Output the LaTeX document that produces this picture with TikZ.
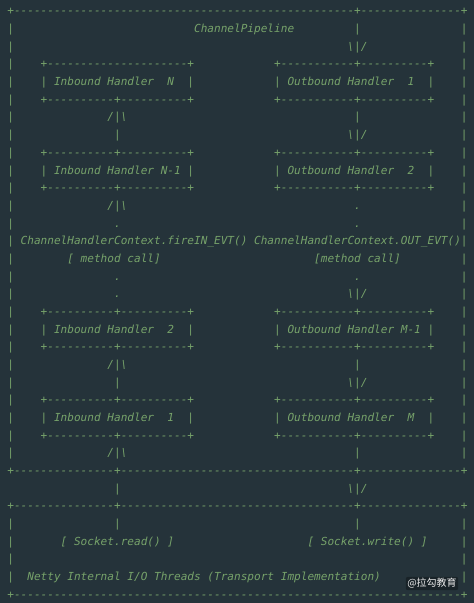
\documentclass[tikz,border=0pt]{standalone}
\usepackage{fontspec}
\setmonofont{DejaVu Sans Mono}
\newfontfamily\cjkfont{Noto Sans CJK SC}
\usepackage{xcolor}
\usepackage{tikz}

\definecolor{termbg}{HTML}{25333A}
\definecolor{termgreen}{HTML}{76A26A}
\newcommand{\dashrun}[1]{\foreach \k in {1,...,#1}{-}}

\begin{document}
\begin{tikzpicture}[x=6.67pt,y=-17.68pt,
	txt/.style={anchor=base west,inner sep=0pt,xshift=-3.335pt,yshift=-3.2pt,text=termgreen,
		font=\fontsize{11.08}{13}\selectfont\ttfamily\itshape\frenchspacing}]
	\fill[termbg] (-10.5pt,11.7pt) rectangle (463.5pt,-591.3pt);
	\useasboundingbox (-10.5pt,11.7pt) rectangle (463.5pt,-591.3pt);
	% outer frame
	\foreach \r in {1,...,25,29,30,31,32}{
		\node[txt] (lbar\r) at (0,\r) {|};
		\node[txt] (rbar\r) at (68,\r) {|};
	}
	\node[txt] (top) at (0,0) {+\dashrun{51}+\dashrun{15}+};
	\node[txt] (pipe) at (28,1) {ChannelPipeline};
	\node[txt] (outin) at (52,1) {|};
	\node[txt] (outarr) at (51,2) {\textbackslash|/};
	% handlers N / 1
	\node[txt] (inNt) at (5,3) {+\dashrun{21}+};
	\node[txt] (out1t) at (40,3) {+\dashrun{11}+\dashrun{10}+};
	\node[txt] (inN) at (5,4) {|~Inbound~Handler~~N~~|};
	\node[txt] (out1) at (40,4) {|~Outbound~Handler~~1~~|};
	\node[txt] (inNb) at (5,5) {+\dashrun{10}+\dashrun{10}+};
	\node[txt] (out1b) at (40,5) {+\dashrun{11}+\dashrun{10}+};
	\node[txt] (a1) at (15,6) {/|\textbackslash};
	\node[txt] (b1) at (52,6) {|};
	\node[txt] (a2) at (16,7) {|};
	\node[txt] (b2) at (51,7) {\textbackslash|/};
	% handlers N-1 / 2
	\node[txt] (inN1t) at (5,8) {+\dashrun{10}+\dashrun{10}+};
	\node[txt] (out2t) at (40,8) {+\dashrun{11}+\dashrun{10}+};
	\node[txt] (inN1) at (5,9) {|~Inbound~Handler~N-1~|};
	\node[txt] (out2) at (40,9) {|~Outbound~Handler~~2~~|};
	\node[txt] (inN1b) at (5,10) {+\dashrun{10}+\dashrun{10}+};
	\node[txt] (out2b) at (40,10) {+\dashrun{11}+\dashrun{10}+};
	\node[txt] (a3) at (15,11) {/|\textbackslash};
	\node[txt] (b3) at (52,11) {.};
	\node[txt] (a4) at (16,12) {.};
	\node[txt] (b4) at (52,12) {.};
	\node[txt] (ctx) at (2,13) {ChannelHandlerContext.fireIN\_EVT()~ChannelHandlerContext.OUT\_EVT()};
	\node[txt] (callin) at (9,14) {[~method~call]};
	\node[txt] (callout) at (46,14) {[method~call]};
	\node[txt] (a5) at (16,15) {.};
	\node[txt] (b5) at (52,15) {.};
	\node[txt] (a6) at (16,16) {.};
	\node[txt] (b6) at (51,16) {\textbackslash|/};
	% handlers 2 / M-1
	\node[txt] (in2t) at (5,17) {+\dashrun{10}+\dashrun{10}+};
	\node[txt] (outM1t) at (40,17) {+\dashrun{11}+\dashrun{10}+};
	\node[txt] (in2) at (5,18) {|~Inbound~Handler~~2~~|};
	\node[txt] (outM1) at (40,18) {|~Outbound~Handler~M-1~|};
	\node[txt] (in2b) at (5,19) {+\dashrun{10}+\dashrun{10}+};
	\node[txt] (outM1b) at (40,19) {+\dashrun{11}+\dashrun{10}+};
	\node[txt] (a7) at (15,20) {/|\textbackslash};
	\node[txt] (b7) at (52,20) {|};
	\node[txt] (a8) at (16,21) {|};
	\node[txt] (b8) at (51,21) {\textbackslash|/};
	% handlers 1 / M
	\node[txt] (in1t) at (5,22) {+\dashrun{10}+\dashrun{10}+};
	\node[txt] (outMt) at (40,22) {+\dashrun{11}+\dashrun{10}+};
	\node[txt] (in1) at (5,23) {|~Inbound~Handler~~1~~|};
	\node[txt] (outM) at (40,23) {|~Outbound~Handler~~M~~|};
	\node[txt] (in1b) at (5,24) {+\dashrun{10}+\dashrun{10}+};
	\node[txt] (outMb) at (40,24) {+\dashrun{11}+\dashrun{10}+};
	\node[txt] (a9) at (15,25) {/|\textbackslash};
	\node[txt] (b9) at (52,25) {|};
	% transport
	\node[txt] (mid1) at (0,26) {+\dashrun{15}+\dashrun{35}+\dashrun{15}+};
	\node[txt] (a10) at (16,27) {|};
	\node[txt] (b10) at (51,27) {\textbackslash|/};
	\node[txt] (mid2) at (0,28) {+\dashrun{15}+\dashrun{35}+\dashrun{15}+};
	\node[txt] (a11) at (16,29) {|};
	\node[txt] (b11) at (52,29) {|};
	\node[txt] (read) at (8,30) {[~Socket.read()~]};
	\node[txt] (write) at (45,30) {[~Socket.write()~]};
	\node[txt] (netty) at (3,32) {Netty~Internal~I/O~Threads~(Transport~Implementation)};
	\node[txt] (bottom) at (0,33) {+\dashrun{67}+};
	% watermark
	\node[fill=black,fill opacity=0.3,text opacity=1,rounded corners=2pt,inner sep=1.5pt,
		text=white!85!gray,font=\cjkfont\fontsize{10}{11}\selectfont] (mark) at (421.5pt,-571.8pt) {@拉勾教育};
\end{tikzpicture}
\end{document}
